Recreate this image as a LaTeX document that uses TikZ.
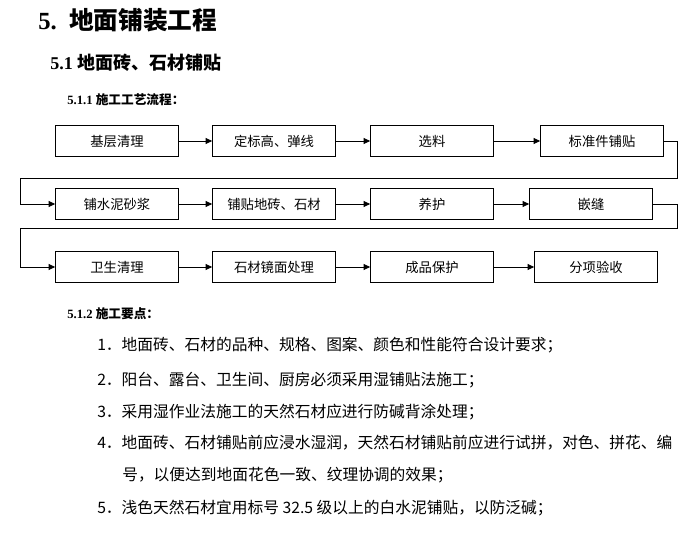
\documentclass[tikz,border=0pt]{standalone}
\usepackage{fontspec}
\setmainfont{Liberation Serif}
\newfontfamily\cjk{Noto Sans CJK SC}
\usetikzlibrary{arrows.meta}
\begin{document}
\begin{tikzpicture}[x=0.75pt,y=-0.75pt,
  stepbox/.style={draw,line width=0.7pt,minimum width=92pt,minimum height=23pt,inner sep=0pt,font=\cjk\fontsize{10}{12}\selectfont},
  arr/.style={line width=0.7pt,-{Triangle[length=5pt,width=4.5pt]}},
  item/.style={anchor=west,inner sep=0pt,font=\cjk\fontsize{11.8}{14}\selectfont}]
\useasboundingbox (0,0) rectangle (690,535);
\node[anchor=west,inner sep=0pt,font=\bfseries\fontsize{18.5}{22}\selectfont] (t) at (38,20) {5.\ \ {\cjk 地面铺装工程}};
\node[anchor=west,inner sep=0pt,font=\bfseries\fontsize{13.5}{16}\selectfont] (t1) at (50,63) {5.1 {\cjk 地面砖、石材铺贴}};
\node[anchor=west,inner sep=0pt,font=\bfseries\fontsize{9.5}{12}\selectfont] (t11) at (67,100) {5.1.1 {\cjk 施工工艺流程：}};
\node[anchor=west,inner sep=0pt,font=\bfseries\fontsize{9.5}{12}\selectfont] (t12) at (67,314) {5.1.2 {\cjk 施工要点：}};
% row1
\node[stepbox] (a1) at (117,141) {基层清理};
\node[stepbox] (a2) at (274,141) {定标高、弹线};
\node[stepbox] (a3) at (432,141) {选料};
\node[stepbox] (a4) at (602,141) {标准件铺贴};
% row2
\node[stepbox] (b1) at (117,204) {铺水泥砂浆};
\node[stepbox] (b2) at (274,204) {铺贴地砖、石材};
\node[stepbox] (b3) at (432,204) {养护};
\node[stepbox] (b4) at (591,204) {嵌缝};
% row3
\node[stepbox] (c1) at (117,267) {卫生清理};
\node[stepbox] (c2) at (274,267) {石材镜面处理};
\node[stepbox] (c3) at (432,267) {成品保护};
\node[stepbox] (c4) at (596,267) {分项验收};
\foreach \p/\q in {a1/a2,a2/a3,a3/a4,b1/b2,b2/b3,b3/b4,c1/c2,c2/c3,c3/c4}
  \draw[arr] (\p) -- (\q);
\draw[arr] (a4.east) -| (677,178) -| (20,204) -- (b1.west);
\draw[arr] (b4.east) -| (677,228) -| (20,267) -- (c1.west);
% list
\node[item] (l1) at (97,345) {1．地面砖、石材的品种、规格、图案、颜色和性能符合设计要求；};
\node[item] (l2) at (97,380) {2．阳台、露台、卫生间、厨房必须采用湿铺贴法施工；};
\node[item] (l3) at (97,412) {3．采用湿作业法施工的天然石材应进行防碱背涂处理；};
\node[item] (l4) at (97,443) {4．地面砖、石材铺贴前应浸水湿润，天然石材铺贴前应进行试拼，对色、拼花、编};
\node[item] (l4b) at (122,475) {号，以便达到地面花色一致、纹理协调的效果；};
\node[item] (l5) at (97,508) {5．浅色天然石材宜用标号 32.5 级以上的白水泥铺贴，以防泛碱；};
\end{tikzpicture}
\end{document}
